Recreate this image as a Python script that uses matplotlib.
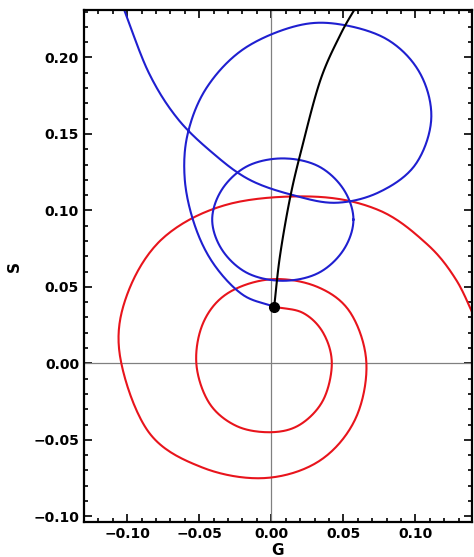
import numpy as np
import matplotlib.pyplot as plt
from matplotlib.ticker import MultipleLocator

# points (G, S)
red_g = [0.002, 0.022, 0.036, 0.042, 0.036, 0.020, 0.000, -0.024, -0.043, -0.052, -0.047,
         -0.030, 0.000, 0.032, 0.055, 0.066, 0.058, 0.033, -0.005, -0.048, -0.085, -0.105,
         -0.100, -0.075, -0.030, 0.030, 0.075, 0.108, 0.128, 0.142]
red_s = [0.037, 0.033, 0.020, 0.000, -0.024, -0.040, -0.045, -0.041, -0.026, 0.000, 0.027,
         0.046, 0.055, 0.050, 0.033, 0.000, -0.037, -0.064, -0.075, -0.068, -0.045, 0.005,
         0.045, 0.082, 0.104, 0.109, 0.100, 0.078, 0.055, 0.028]

blue_g = [0.002, -0.020, -0.040, -0.053, -0.060, -0.058, -0.045, -0.020, 0.015, 0.045,
          0.080, 0.103, 0.111, 0.100, 0.075, 0.045, 0.015, -0.015, -0.040, -0.065,
          -0.085, -0.102, -0.110]
blue_s = [0.037, 0.045, 0.065, 0.090, 0.120, 0.150, 0.180, 0.205, 0.220, 0.222,
          0.212, 0.190, 0.160, 0.130, 0.112, 0.105, 0.110, 0.120, 0.137, 0.160,
          0.190, 0.231, 0.250]

loop_g = [0.057, 0.050, 0.0325, 0.008, -0.0165, -0.034, -0.041, -0.034, -0.0165, 0.008,
          0.0325, 0.050, 0.057]
loop_s = [0.094, 0.114, 0.129, 0.134, 0.129, 0.114, 0.094, 0.074, 0.059, 0.054,
          0.059, 0.074, 0.094]

black_g = [0.002, 0.006, 0.013, 0.021, 0.034, 0.048, 0.060]
black_s = [0.037, 0.070, 0.108, 0.140, 0.185, 0.215, 0.235]


def smooth(xs, ys, closed=False, n=20):
    p = np.column_stack([xs, ys]).astype(float)
    if closed:
        p = np.vstack([p[-2], p, p[1]])
    else:
        p = np.vstack([2 * p[0] - p[1], p, 2 * p[-1] - p[-2]])
    out = []
    t = np.linspace(0, 1, n, endpoint=False)[:, None]
    for i in range(1, len(p) - 2):
        p0, p1, p2, p3 = p[i - 1], p[i], p[i + 1], p[i + 2]
        out.append(0.5 * (2 * p1 + (-p0 + p2) * t + (2 * p0 - 5 * p1 + 4 * p2 - p3) * t**2
                          + (-p0 + 3 * p1 - 3 * p2 + p3) * t**3))
    out.append(p[-2][None])
    out = np.vstack(out)
    return out[:, 0], out[:, 1]


fig = plt.figure(figsize=(4.74, 5.57), dpi=100)
ax = fig.add_axes([0.177, 0.062, 0.818, 0.92])
ax.axhline(0, color='grey', lw=0.9)
ax.axvline(0, color='grey', lw=0.9)

ax.plot(*smooth(red_g, red_s), color='#e8141c', lw=1.5)
ax.plot(*smooth(blue_g, blue_s), color='#1f1fd0', lw=1.5)
ax.plot(*smooth(loop_g, loop_s, closed=True), color='#1f1fd0', lw=1.5)
ax.plot(*smooth(black_g, black_s), color='black', lw=1.5)
ax.plot([0.002], [0.037], 'o', color='black', ms=7)

ax.set_xlim(-0.130, 0.139)
ax.set_ylim(-0.104, 0.231)
ax.xaxis.set_major_locator(MultipleLocator(0.05))
ax.yaxis.set_major_locator(MultipleLocator(0.05))
ax.xaxis.set_minor_locator(MultipleLocator(0.01))
ax.yaxis.set_minor_locator(MultipleLocator(0.01))
ax.tick_params(which='both', direction='in', top=True, right=True, width=1.2)
ax.tick_params(which='major', length=6, labelsize=10)
ax.tick_params(which='minor', length=3)
for lbl in ax.get_xticklabels() + ax.get_yticklabels():
    lbl.set_fontweight('bold')
for s in ax.spines.values():
    s.set_linewidth(1.6)
ax.set_xlabel('G', fontweight='bold', fontsize=11, labelpad=1)
ax.set_ylabel('S', fontweight='bold', fontsize=11, labelpad=8)
fig.savefig('out.png')
